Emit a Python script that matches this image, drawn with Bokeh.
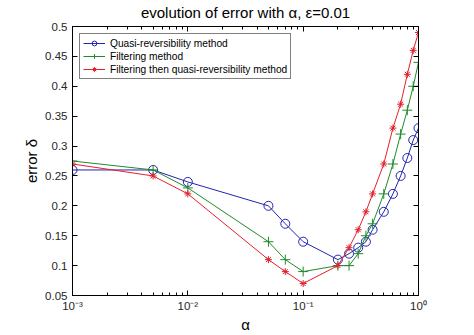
from bokeh.plotting import figure
from bokeh.models import (FixedTicker, LogAxis, LinearAxis, CustomJSTickFormatter,
                          Legend, LegendItem, Range1d)
from bokeh.embed import file_html
from bokeh.resources import INLINE

# ---- data ----
alpha = [0.001, 0.005, 0.01, 0.05, 0.07, 0.1, 0.2, 0.25, 0.3, 0.35, 0.4,
         0.5, 0.6, 0.7, 0.8, 0.9, 1.0]
quasi = [0.26, 0.26, 0.24, 0.20, 0.17, 0.14, 0.11, 0.12, 0.13, 0.14, 0.16,
         0.19, 0.22, 0.25, 0.28, 0.31, 0.33]
filtering = [0.275, 0.26, 0.23, 0.14, 0.11, 0.09, 0.10, 0.10, 0.12, 0.15, 0.17,
             0.22, 0.27, 0.32, 0.36, 0.40, 0.44]
filt_quasi = [0.27, 0.25, 0.22, 0.11, 0.09, 0.07, 0.10, 0.13, 0.16, 0.19, 0.22,
              0.27, 0.33, 0.37, 0.42, 0.46, 0.49]

series_names = ["Quasi-reversibility method", "Filtering method",
                "Filtering then quasi-reversibility method"]

x_ticks = [0.001, 0.01, 0.1, 1.0]
x_tick_labels = ["10\u207b\u00b3", "10\u207b\u00b2", "10\u207b\u00b9", "10\u2070"]
x_minor_ticks = [0.002, 0.003, 0.004, 0.005, 0.006, 0.007, 0.008, 0.009,
                 0.02, 0.03, 0.04, 0.05, 0.06, 0.07, 0.08, 0.09,
                 0.2, 0.3, 0.4, 0.5, 0.6, 0.7, 0.8, 0.9]
y_ticks = [0.05, 0.1, 0.15, 0.2, 0.25, 0.3, 0.35, 0.4, 0.45, 0.5]
y_tick_labels = ["0.05", "0.1", "0.15", "0.2", "0.25", "0.3", "0.35", "0.4", "0.45", "0.5"]

BLUE = "#2323b0"
GREEN = "#1f8a2a"
RED = "#e3202a"
FONT = "Liberation Sans"

p = figure(width=474, height=335, x_axis_type="log",
           x_range=Range1d(0.001, 1.0), y_range=Range1d(0.05, 0.5),
           output_backend="svg", toolbar_location=None,
           min_border_left=72, min_border_right=56,
           min_border_top=26, min_border_bottom=36)

p.background_fill_color = "white"
p.border_fill_color = "white"
p.outline_line_color = "black"
p.outline_line_width = 1
p.xgrid.visible = False
p.ygrid.visible = False

p.title.text = "evolution of error with \u03b1, \u03b5=0.01"
p.title.text_font = FONT
p.title.text_font_size = "15px"
p.title.text_font_style = "normal"
p.title.text_color = "black"
p.title.align = "center"
p.title.standoff = 2

x_ticker = FixedTicker(ticks=x_ticks, minor_ticks=x_minor_ticks)
y_ticker = FixedTicker(ticks=y_ticks, minor_ticks=[])

x_fmt = CustomJSTickFormatter(args=dict(xt=x_ticks, xl=x_tick_labels), code="""
    for (let i = 0; i < xt.length; i++) {
        if (Math.abs(Math.log10(xt[i]) - Math.log10(tick)) < 1e-6) return xl[i];
    }
    return "";
""")
y_fmt = CustomJSTickFormatter(args=dict(yt=y_ticks, yl=y_tick_labels), code="""
    for (let i = 0; i < yt.length; i++) {
        if (Math.abs(yt[i] - tick) < 1e-9) return yl[i];
    }
    return "";
""")
blank_fmt = CustomJSTickFormatter(code='return " ";')

def style_axis(ax):
    ax.axis_line_color = "black"
    ax.major_tick_line_color = "black"
    ax.minor_tick_line_color = "black"
    ax.major_tick_in = 5
    ax.major_tick_out = 0
    ax.minor_tick_in = 3
    ax.minor_tick_out = 0
    ax.major_label_text_font = FONT
    ax.major_label_text_font_size = "11.5px"
    ax.major_label_text_color = "#262626"
    ax.axis_label_text_font = FONT
    ax.axis_label_text_font_size = "15px"
    ax.axis_label_text_font_style = "normal"
    ax.axis_label_text_color = "black"

xa = p.xaxis[0]
xa.ticker = x_ticker
xa.formatter = x_fmt
style_axis(xa)
xa.axis_label = "\u03b1"
xa.major_label_standoff = 4
xa.axis_label_standoff = 1

ya = p.yaxis[0]
ya.ticker = y_ticker
ya.formatter = y_fmt
style_axis(ya)
ya.axis_label = "error \u03b4"
ya.major_label_standoff = 5
ya.axis_label_standoff = 2

top = LogAxis(ticker=x_ticker, formatter=blank_fmt)
style_axis(top)
top.major_label_text_font_size = "2px"
top.major_label_standoff = 0
p.add_layout(top, "above")

right = LinearAxis(ticker=y_ticker, formatter=blank_fmt)
style_axis(right)
right.major_label_text_font_size = "2px"
right.major_label_standoff = 0
p.add_layout(right, "right")

l1 = p.line(alpha, quasi, line_color=BLUE, line_width=1)
m1 = p.scatter(alpha, quasi, marker="circle", size=9, fill_color=None,
               line_color=BLUE, line_width=1)
l2 = p.line(alpha, filtering, line_color=GREEN, line_width=1)
m2 = p.scatter(alpha, filtering, marker="cross", size=10, line_color=GREEN, line_width=1)
l3 = p.line(alpha, filt_quasi, line_color=RED, line_width=1)
m3 = p.scatter(alpha, filt_quasi, marker="asterisk", size=7, line_color=RED, line_width=1)

legend = Legend(items=[
    LegendItem(label=series_names[0], renderers=[l1, m1]),
    LegendItem(label=series_names[1], renderers=[l2, m2]),
    LegendItem(label=series_names[2], renderers=[l3, m3]),
], location="top_left")
legend.margin = 7
legend.padding = 3
legend.spacing = 1
legend.label_height = 12
legend.glyph_height = 12
legend.glyph_width = 22
legend.label_standoff = 5
legend.label_text_font = FONT
legend.label_text_font_size = "10.2px"
legend.label_text_color = "black"
legend.border_line_color = "black"
legend.border_line_width = 1
legend.background_fill_color = "white"
legend.background_fill_alpha = 1.0
p.add_layout(legend)

open("out.html", "w").write(file_html(p, INLINE))
